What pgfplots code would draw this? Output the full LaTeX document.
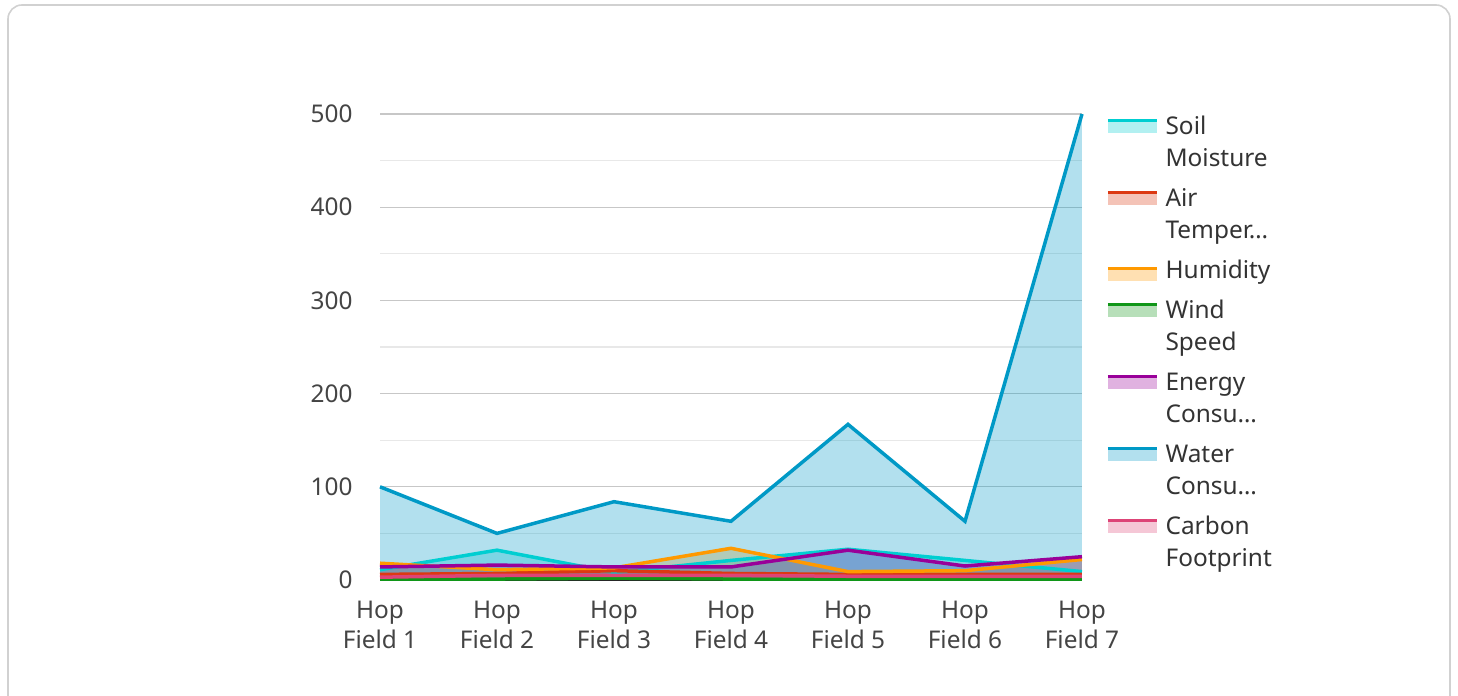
\documentclass[border=0pt]{standalone}
\usepackage{fontspec}
\setmainfont{Noto Sans}
\usepackage{pgfplots}
\pgfplotsset{compat=1.18}
\definecolor{soil}{HTML}{00CED1}
\definecolor{air}{HTML}{DC3912}
\definecolor{hum}{HTML}{FF9900}
\definecolor{wind}{HTML}{109618}
\definecolor{energy}{HTML}{990099}
\definecolor{water}{HTML}{0099C6}
\definecolor{carbon}{HTML}{DD4477}
\definecolor{txt}{HTML}{444444}
\newcommand\la{\rule[-6pt]{0pt}{16pt}}
\newcommand\lb{\rule[-10pt]{0pt}{20pt}}
\pgfplotsset{
  sw/.style={legend image code/.code={
    \fill[#1, draw=none, fill opacity=0.3] (0pt,-1.2pt) rectangle (24.5pt,4.2pt);
    \draw[#1, line width=1.6pt] (0pt,5pt) -- (24.5pt,5pt);}},
  ln/.style={#1, line width=1.75pt, sw=#1},
  ar/.style={draw=none, fill=#1, fill opacity=0.3, forget plot},
}
\begin{document}
\fontsize{12.2pt}{16pt}\selectfont
\begin{tikzpicture}
\useasboundingbox (0,0) rectangle (729pt,348pt);
\draw[black!18, line width=0.8pt, rounded corners=7pt] (4pt,-10pt) rectangle (725pt,345.5pt);
\begin{axis}[
  at={(190pt,58pt)}, anchor=south west, scale only axis,
  width=351pt, height=233pt,
  xmin=0, xmax=6, ymin=0, ymax=500, clip=false,
  axis x line*=bottom, axis y line*=left,
  y axis line style={draw=none},
  x axis line style={black!85, line width=0.8pt},
  major tick length=0pt, minor tick length=0pt,
  xtick={0,1,2,3,4,5,6},
  xticklabels={Hop\\Field 1,Hop\\Field 2,Hop\\Field 3,Hop\\Field 4,Hop\\Field 5,Hop\\Field 6,Hop\\Field 7},
  xticklabel style={align=center, anchor=north, inner sep=0pt, yshift=-10.5pt, text=txt, font=\fontsize{12.2pt}{15pt}\selectfont},
  ytick={0,100,200,300,400,500},
  minor ytick={50,150,250,350,450},
  yticklabel style={anchor=east, inner sep=0pt, xshift=-13.5pt, text=txt},
  /pgf/number format/assume math mode=true,
  ymajorgrids, yminorgrids,
  major grid style={black!22, line width=0.6pt},
  minor grid style={black!9, line width=0.6pt},
  legend style={at={(1,1)}, anchor=north west, xshift=12pt, draw=none, fill=none,
    inner sep=0pt, row sep=0pt, column sep=3.5pt, text=black!80,
    cells={anchor=base west}, nodes={inner sep=0pt, text depth=}},
  legend cell align=left,
]
% areas
\addplot[ar=soil] coordinates {(0,11) (1,32) (2,8) (3,21) (4,33) (5,21) (6,9)} \closedcycle;
\addplot[ar=air] coordinates {(0,6) (1,7) (2,10) (3,7) (4,6) (5,6) (6,6)} \closedcycle;
\addplot[ar=hum] coordinates {(0,18) (1,11) (2,13) (3,34) (4,9) (5,10) (6,22)} \closedcycle;
\addplot[ar=wind] coordinates {(0,1) (1,1) (2,2) (3,1) (4,1) (5,1) (6,1)} \closedcycle;
\addplot[ar=energy] coordinates {(0,14) (1,16) (2,14) (3,14) (4,32) (5,15) (6,25)} \closedcycle;
\addplot[ar=water] coordinates {(0,100) (1,50) (2,84) (3,63) (4,167) (5,63) (6,500)} \closedcycle;
\addplot[ar=carbon] coordinates {(0,3) (1,5) (2,5) (3,5) (4,4) (5,4) (6,4)} \closedcycle;
% lines
\addplot[ln=soil] coordinates {(0,11) (1,32) (2,8) (3,21) (4,33) (5,21) (6,9)};
\addlegendentry{Soil\la}
\addlegendimage{empty legend}\addlegendentry{Moisture\lb}
\addplot[ln=air] coordinates {(0,6) (1,7) (2,10) (3,7) (4,6) (5,6) (6,6)};
\addlegendentry{Air\la}
\addlegendimage{empty legend}\addlegendentry{Temper…\lb}
\addplot[ln=hum] coordinates {(0,18) (1,11) (2,13) (3,34) (4,9) (5,10) (6,22)};
\addlegendentry{Humidity\lb}
\addplot[ln=wind] coordinates {(0,1) (1,1) (2,2) (3,1) (4,1) (5,1) (6,1)};
\addlegendentry{Wind\la}
\addlegendimage{empty legend}\addlegendentry{Speed\lb}
\addplot[ln=energy] coordinates {(0,14) (1,16) (2,14) (3,14) (4,32) (5,15) (6,25)};
\addlegendentry{Energy\la}
\addlegendimage{empty legend}\addlegendentry{Consu…\lb}
\addplot[ln=water] coordinates {(0,100) (1,50) (2,84) (3,63) (4,167) (5,63) (6,500)};
\addlegendentry{Water\la}
\addlegendimage{empty legend}\addlegendentry{Consu…\lb}
\addplot[ln=carbon] coordinates {(0,3) (1,5) (2,5) (3,5) (4,4) (5,4) (6,4)};
\addlegendentry{Carbon\la}
\addlegendimage{empty legend}\addlegendentry{Footprint\lb}
\end{axis}
\end{tikzpicture}
\end{document}
